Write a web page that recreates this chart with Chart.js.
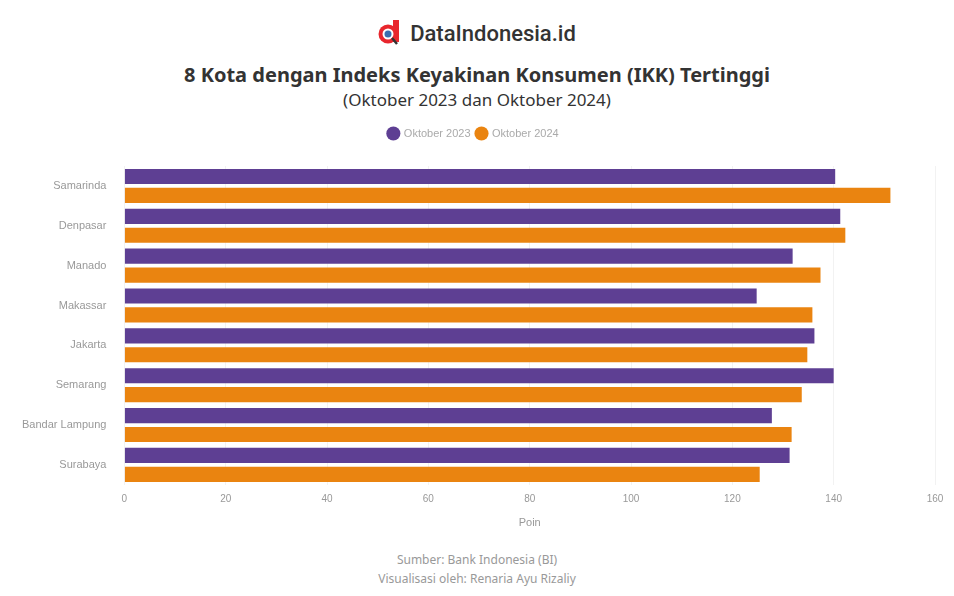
<!DOCTYPE html>
<html>
<head>
<meta charset="utf-8">
<script src="https://cdn.jsdelivr.net/npm/chart.js@4.4.0/dist/chart.umd.min.js"></script>
<style>
  body { margin: 0; background: #fff; font-family: "Source Sans Pro", "Noto Sans", sans-serif; }
  #wrap { position: relative; width: 954px; height: 596px; }
  #brand { position: absolute; top: 20px; left: 0; width: 954px; text-align: center; font-family: Roboto, sans-serif; font-size: 22px; font-weight: 500; color: #333; }
  #brand svg { vertical-align: -5px; margin-right: 8px; }
  #title { position: absolute; top: 61px; left: 0; width: 954px; text-align: center; font-size: 20px; font-weight: bold; color: #333; }
  #subtitle { position: absolute; top: 88px; left: 0; width: 954px; text-align: center; font-size: 17px; color: #333; }
  #box { position: absolute; top: 118px; left: 0; width: 954px; height: 416px; }
  .foot { position: absolute; left: 0; width: 954px; text-align: center; font-size: 12px; color: #999; }
</style>
</head>
<body>
<div id="wrap">
  <div id="brand"><svg width="24" height="26" viewBox="0 0 24 26">
    <rect x="15" y="0" width="6" height="22" fill="#e8262d"/>
    <circle cx="10" cy="14" r="9.5" fill="#e8262d"/>
    <circle cx="10" cy="14" r="5.5" fill="#fff"/>
    <circle cx="10" cy="14" r="3.5" fill="#3a6fb0"/>
    <line x1="14" y1="18" x2="19" y2="24" stroke="#333" stroke-width="2.5"/>
  </svg>DataIndonesia.id</div>
  <div id="title">8 Kota dengan Indeks Keyakinan Konsumen (IKK) Tertinggi</div>
  <div id="subtitle">(Oktober 2023 dan Oktober 2024)</div>
  <div id="box"><canvas id="chartOne"></canvas></div>
  <div class="foot" style="top:551px">Sumber: Bank Indonesia (BI)</div>
  <div class="foot" style="top:570px">Visualisasi oleh: Renaria Ayu Rizaliy</div>
</div>
<script>
// data
const kota = ['Samarinda', 'Denpasar', 'Manado', 'Makassar', 'Jakarta', 'Semarang', 'Bandar Lampung', 'Surabaya'];
const okt2023 = [140.3, 141.3, 131.9, 124.8, 136.2, 140.0, 127.8, 131.3];
const okt2024 = [151.2, 142.3, 137.4, 135.8, 134.8, 133.7, 131.7, 125.4];
const xTicks = [0, 20, 40, 60, 80, 100, 120, 140, 160];

const ctxOne = document.getElementById('chartOne').getContext('2d');

new Chart(ctxOne, {
    type: 'bar',
    data: {
        labels: kota,
        datasets: [{
            label: 'Oktober 2023',
            data: okt2023,
            backgroundColor: '#5e3f93',
            barPercentage: 0.8,
            categoryPercentage: 0.95
        }, {
            label: 'Oktober 2024',
            data: okt2024,
            backgroundColor: '#ea8410',
            barPercentage: 0.8,
            categoryPercentage: 0.95
        }]
    },
    options: {
        indexAxis: 'y',
        responsive: true,
        maintainAspectRatio: false,
        animation: false,
        layout: { padding: { left: 12, right: 19, top: 4, bottom: 0 } },
        plugins: {
            legend: {
                labels: {
                    usePointStyle: true,
                    pointStyle: 'circle',
                    boxWidth: 10,
                    boxHeight: 10,
                    color: '#aaa',
                    font: { size: 11 },
                    padding: 6
                },
                padding: 0
            },
            tooltip: { enabled: false }
        },
        scales: {
            x: {
                min: 0,
                max: 160,
                afterBuildTicks: (axis) => { axis.ticks = xTicks.map(v => ({ value: v })); },
                grid: { color: '#f2f2f2', drawTicks: false },
                border: { display: false },
                ticks: { color: '#999', font: { size: 10 }, padding: 8 },
                title: { display: true, text: 'Poin', color: '#999', font: { size: 11 }, padding: { top: 4 } }
            },
            y: {
                grid: { display: false },
                border: { display: false },
                ticks: { color: '#999', font: { size: 11 }, padding: 10 }
            }
        }
    },
    plugins: [{
        id: 'legendGap',
        beforeInit(chart) {
            const fit = chart.legend.fit;
            chart.legend.fit = function () { fit.bind(chart.legend)(); this.height += 17; };
        }
    }]
});
</script>
</body>
</html>
